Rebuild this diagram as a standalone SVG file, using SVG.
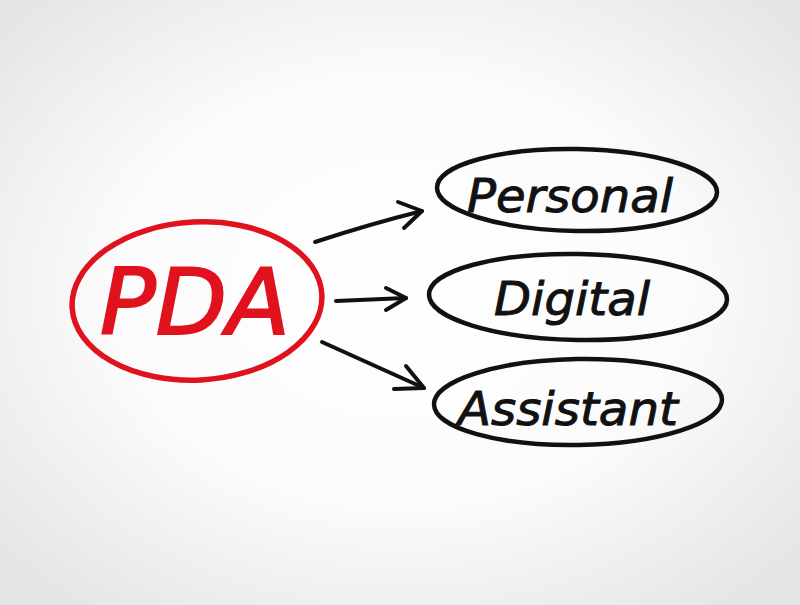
<svg xmlns="http://www.w3.org/2000/svg" width="800" height="605" viewBox="0 0 800 605">
<defs>
<radialGradient id="bg" cx="50%" cy="48%" r="65%">
<stop offset="0" stop-color="#ffffff"/>
<stop offset="0.55" stop-color="#fbfbfb"/>
<stop offset="1" stop-color="#e6e6e6"/>
</radialGradient>
<style>
.oval{fill:none;stroke:#111;stroke-width:4.5}
.lbl{font-family:"DejaVu Sans","Liberation Sans",sans-serif;font-style:italic;font-size:47px;fill:#111;stroke:#111;stroke-width:1}
.conn{fill:none;stroke:#111;stroke-width:4;stroke-linecap:round;stroke-linejoin:round}
</style>
</defs>
<rect x="0" y="0" width="800" height="605" fill="url(#bg)"/>
<g id="pda">
<ellipse cx="197" cy="301" rx="125" ry="79" transform="rotate(-3 197 301)" fill="none" stroke="#e0121e" stroke-width="5.5"/>
<text x="100" y="334" textLength="190" lengthAdjust="spacingAndGlyphs" font-family="DejaVu Sans, Liberation Sans, sans-serif" font-style="italic" font-size="90" fill="#e0121e" stroke="#e0121e" stroke-width="2">PDA</text>
</g>
<g id="personal">
<ellipse class="oval" cx="577" cy="190" rx="140" ry="41" transform="rotate(1 577 190)"/>
<text class="lbl" x="467" y="212" textLength="206" lengthAdjust="spacingAndGlyphs">Personal</text>
</g>
<g id="digital">
<ellipse class="oval" cx="578" cy="297" rx="149" ry="43" transform="rotate(1 578 297)"/>
<text class="lbl" x="494" y="315" textLength="156" lengthAdjust="spacingAndGlyphs">Digital</text>
</g>
<g id="assistant">
<ellipse class="oval" cx="578" cy="402" rx="144" ry="43" transform="rotate(-1 578 402)"/>
<text class="lbl" x="458" y="425" textLength="220" lengthAdjust="spacingAndGlyphs">Assistant</text>
</g>
<g id="connectors">
<path class="conn" d="M315 242 Q370 224 422 211"/>
<path class="conn" d="M398 202 L422 211 L404 228"/>
<path class="conn" d="M336 301 L406 298"/>
<path class="conn" d="M386 288 L406 298 L386 310"/>
<path class="conn" d="M322 342 Q375 366 424 388"/>
<path class="conn" d="M406 366 L424 388 L394 389"/>
</g>
</svg>
